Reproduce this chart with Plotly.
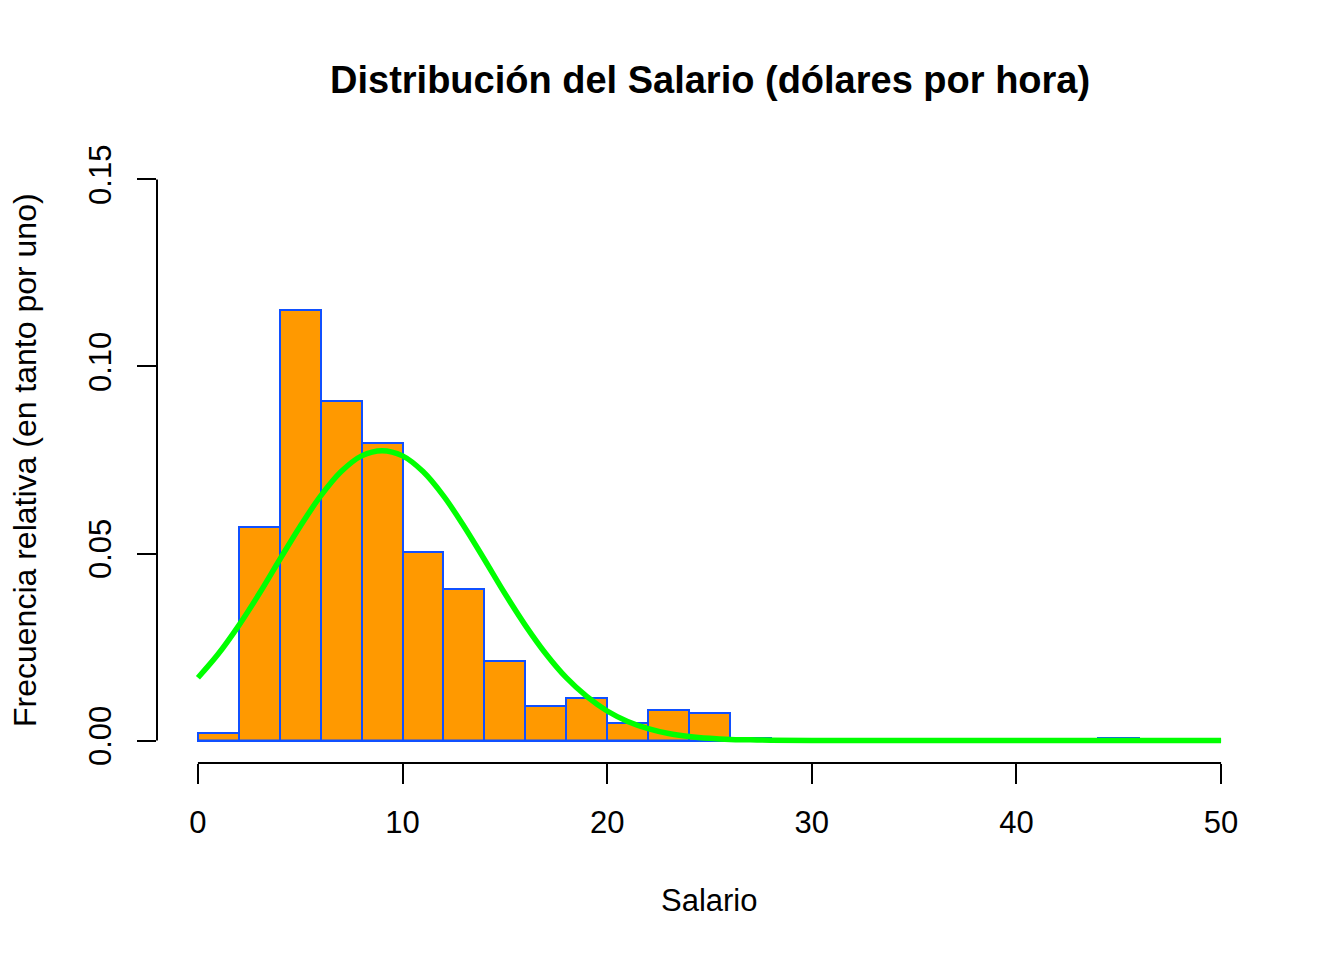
import plotly.graph_objects as go

# Histogram data (relative frequency density per bin)
bin_left = [0, 2, 4, 6, 8, 10, 12, 14, 16, 18, 20, 22, 24, 26, 28, 30, 32, 34, 36, 38, 40, 42, 44, 46, 48]
bin_height = [0.0019, 0.0571, 0.1150, 0.0908, 0.0796, 0.0504, 0.0404, 0.0214, 0.0093, 0.0113,
              0.0046, 0.0083, 0.0075, 0.0006, 0.0, 0.0, 0.0, 0.0, 0.0, 0.0,
              0.0, 0.0, 0.0006, 0.0, 0.0]
bin_width = 2

# Fitted density curve
curve_x = [0, 1, 2, 3, 4, 5, 6, 7, 8, 9, 10, 11, 12, 13, 14, 15, 16, 17, 18, 19, 20,
           21, 22, 23, 24, 25, 26, 27, 28, 30, 35, 40, 45, 50]
curve_y = [0.0168, 0.0232, 0.0308, 0.0393, 0.0484, 0.0573, 0.0654, 0.0719, 0.0761, 0.0775,
           0.0761, 0.0719, 0.0654, 0.0573, 0.0484, 0.0393, 0.0308, 0.0232, 0.0168, 0.0118,
           0.0079, 0.0051, 0.0032, 0.0019, 0.0011, 0.0006, 0.0003, 0.0002, 0.0001, 0.0,
           0.0, 0.0, 0.0, 0.0]

x_ticks = [0, 10, 20, 30, 40, 50]
y_ticks = [0.00, 0.05, 0.10, 0.15]
y_tick_labels = ["0.00", "0.05", "0.10", "0.15"]

title = "Distribución del Salario (dólares por hora)"
x_title = "Salario"
y_title = "Frecuencia relativa (en tanto por uno)"

FONT = "Liberation Sans, Arial, sans-serif"

fig = go.Figure()
centers = [b + bin_width / 2 for b in bin_left]
keep = [i for i, h in enumerate(bin_height) if h > 0]
fig.add_trace(go.Bar(
    x=[centers[i] for i in keep], y=[bin_height[i] for i in keep], width=bin_width,
    marker=dict(color="#FF9900", line=dict(color="#1050FF", width=2)),
    hoverinfo="skip", showlegend=False,
))
# empty bins drawn as flat outlines along baseline (R draws them)
fig.add_trace(go.Scatter(
    x=[0, 50], y=[0, 0], mode="lines", line=dict(color="#1050FF", width=2),
    hoverinfo="skip", showlegend=False,
))
fig.add_trace(go.Scatter(
    x=curve_x, y=curve_y, mode="lines", line=dict(color="#00FF00", width=5.5, shape="spline"),
    hoverinfo="skip", showlegend=False,
))

fig.update_layout(
    width=1344, height=960,
    margin=dict(l=149, r=90, t=148.5, b=204.5),
    paper_bgcolor="white", plot_bgcolor="white",
    font=dict(family=FONT, color="black", size=31),
    bargap=0,
    xaxis=dict(range=[-2, 52], tickvals=x_ticks, ticktext=[str(v) for v in x_ticks],
               ticks="outside", ticklen=20, tickwidth=2, tickcolor="black",
               showgrid=False, zeroline=False, showline=False,
               tickfont=dict(size=31, family=FONT), ticklabelstandoff=12),
    yaxis=dict(range=[-0.006, 0.156], tickvals=y_ticks, ticktext=y_tick_labels,
               ticks="outside", ticklen=19, tickwidth=2, tickcolor="black",
               showgrid=False, zeroline=False, showline=False, tickangle=-90,
               tickfont=dict(size=31, family=FONT), ticklabelstandoff=14),
    shapes=[
        dict(type="line", xref="x", yref="paper", x0=0, x1=50, y0=0, y1=0,
             line=dict(color="black", width=2)),
        dict(type="line", xref="paper", yref="y", x0=0, x1=0, y0=0, y1=0.15,
             line=dict(color="black", width=2)),
    ],
    annotations=[
        dict(text="<b>" + title + "</b>", xref="paper", yref="paper", x=0.5, y=1,
             yshift=77, xanchor="center", yanchor="middle", showarrow=False,
             font=dict(size=38, family=FONT)),
        dict(text=x_title, xref="paper", yref="paper", x=0.5, y=0, yshift=-137,
             xanchor="center", yanchor="middle", showarrow=False,
             font=dict(size=31, family=FONT)),
        dict(text=y_title, xref="paper", yref="paper", x=0, y=0.5, xshift=-132,
             xanchor="center", yanchor="middle", showarrow=False, textangle=-90,
             font=dict(size=32, family=FONT)),
    ],
)

fig.write_html("out.html")
